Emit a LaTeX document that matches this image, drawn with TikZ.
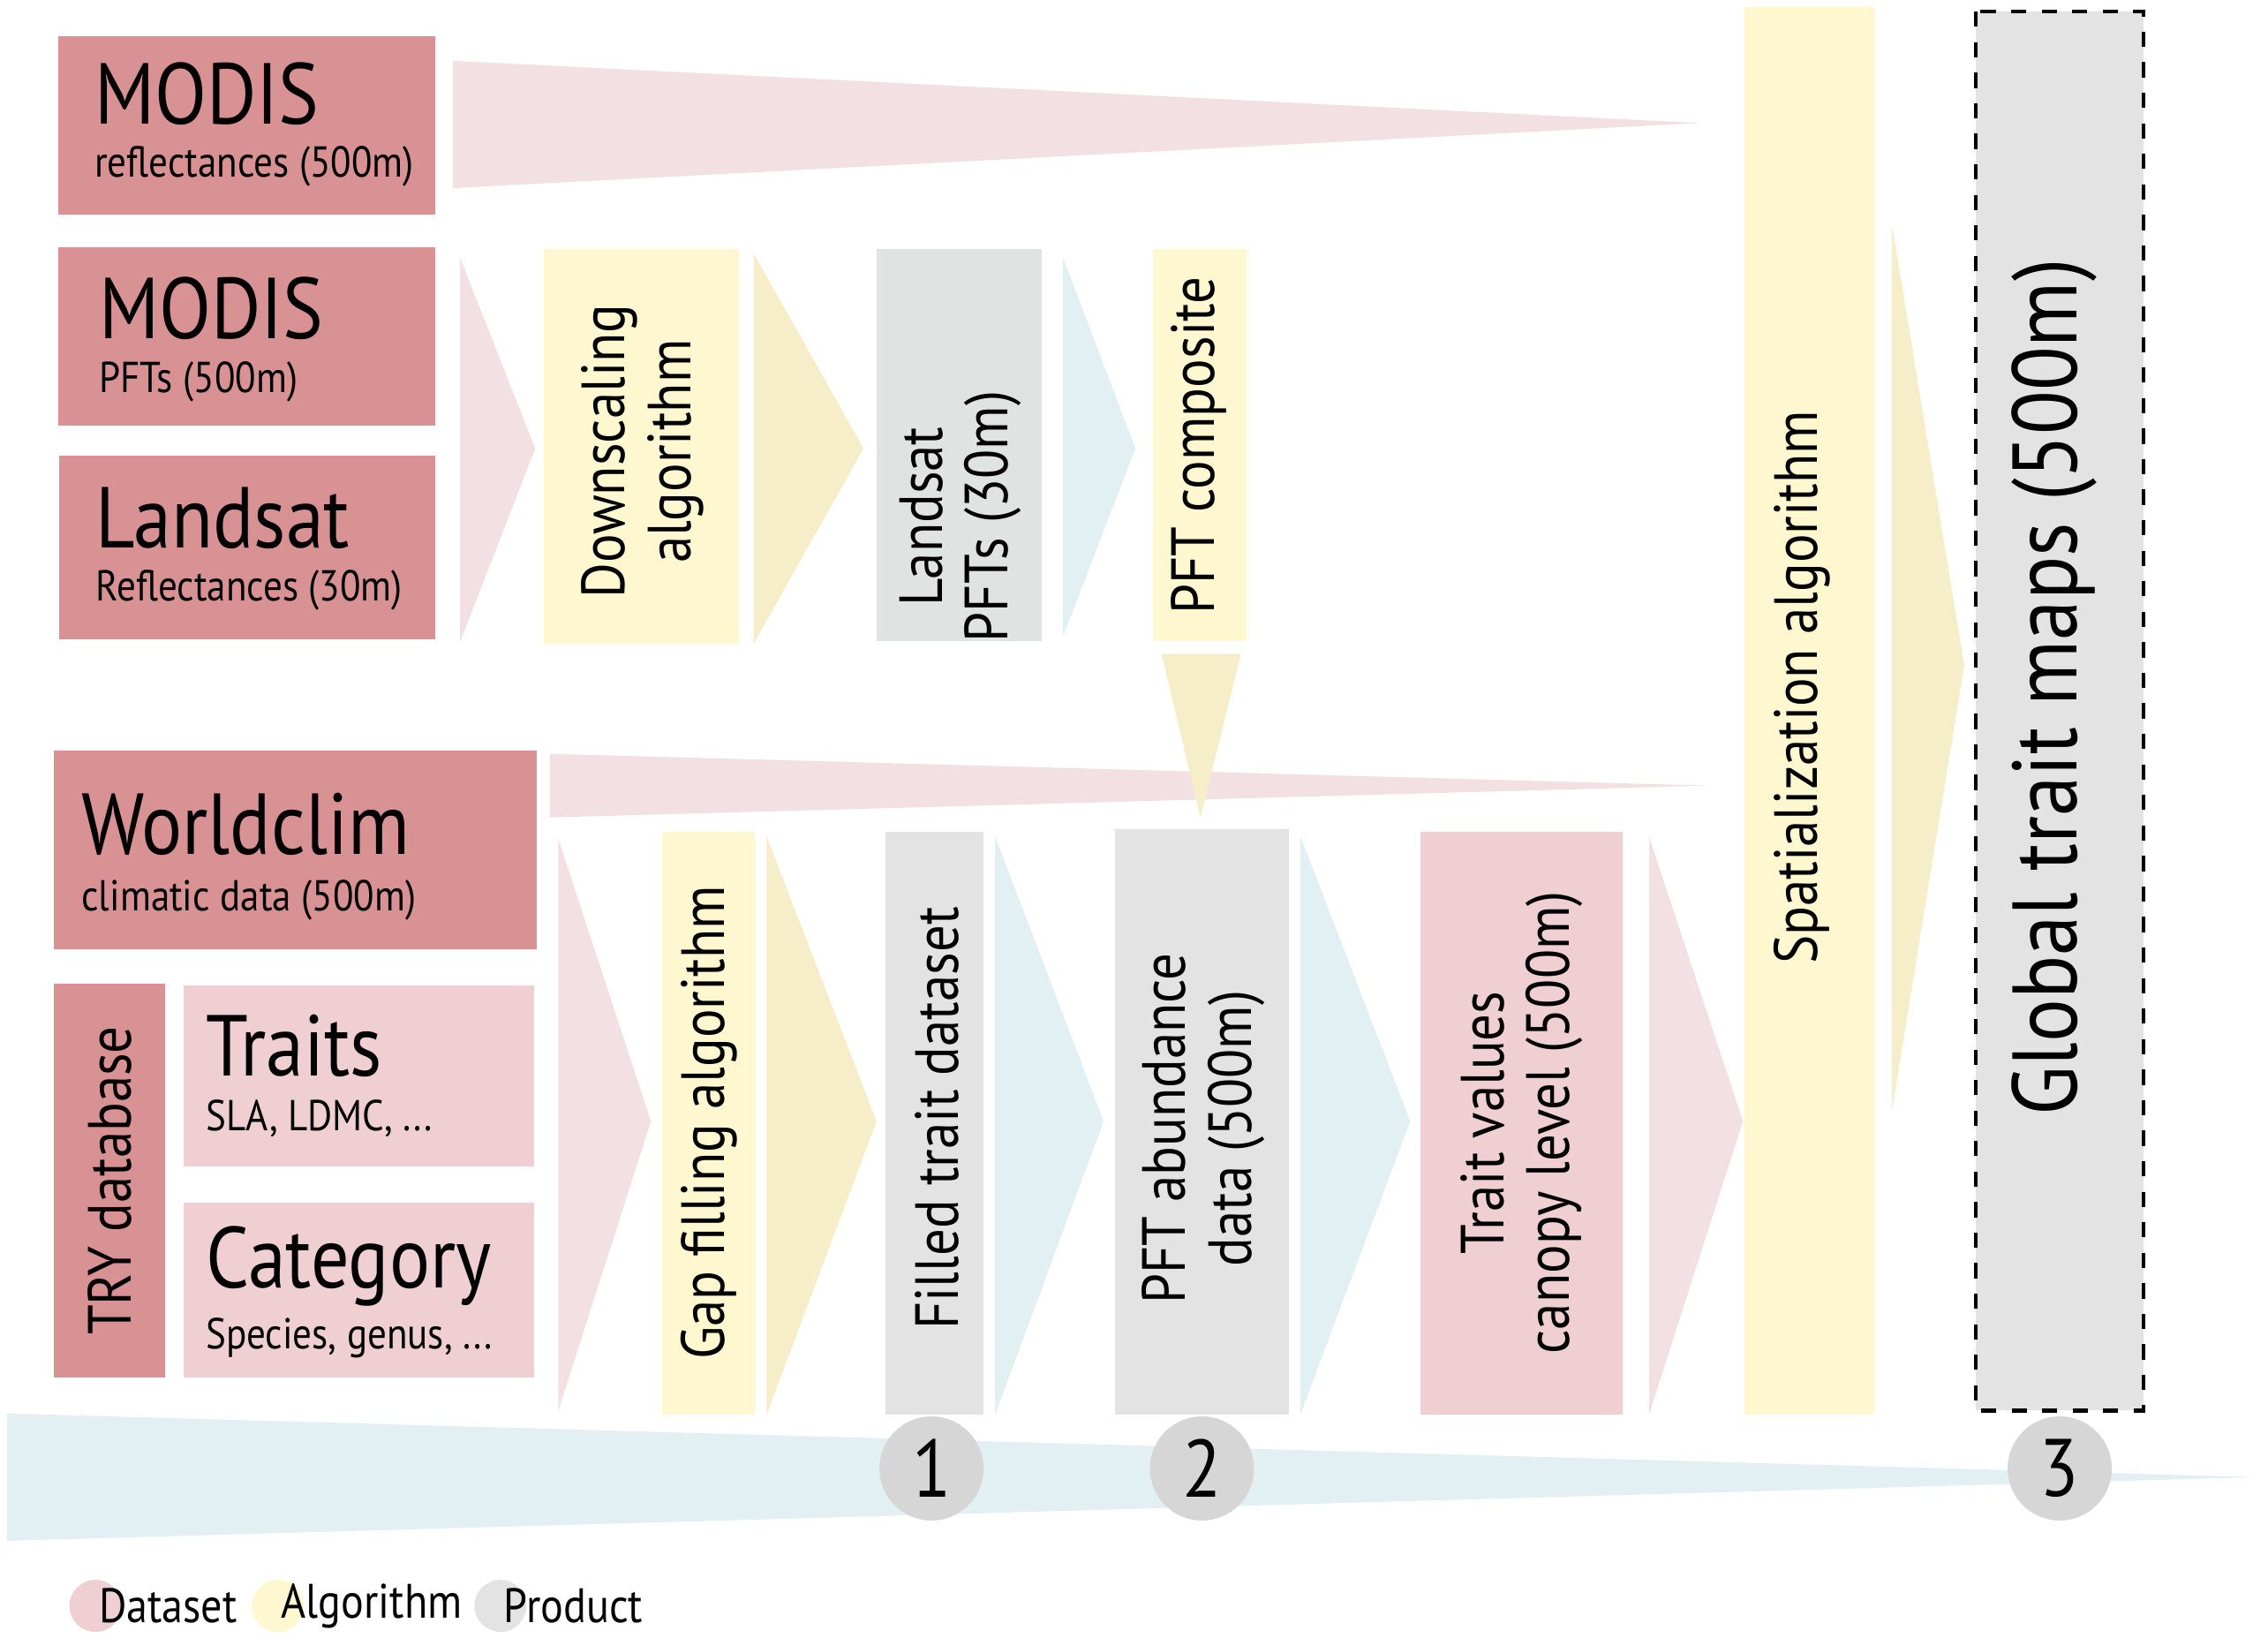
\documentclass[tikz,border=0pt]{standalone}
\usepackage{fontspec}
\setmainfont[FakeStretch=0.88]{PT Sans}
\begin{document}
\begin{tikzpicture}[x=0.01cm,y=-0.01cm]
\definecolor{dred}{HTML}{D99294}
\definecolor{lred}{HTML}{EFCFD2}
\definecolor{ylw}{HTML}{FFF7CF}
\definecolor{gry}{HTML}{E3E3E3}
\definecolor{gryb}{HTML}{DFE3E1}
\definecolor{apink}{HTML}{F2E0E2}
\definecolor{aylw}{HTML}{F6EDC9}
\definecolor{ablue}{HTML}{E2F0F4}
\definecolor{circ}{HTML}{D6D6D6}
\tikzset{box/.style={inner sep=0pt},
 big/.style={font=\fontsize{17}{18}\selectfont},
 small/.style={font=\fontsize{8.5}{10}\selectfont},
 rot/.style={rotate=90,align=center,font=\fontsize{12}{13}\selectfont,inner sep=0pt}}
\useasboundingbox (0,0) rectangle (1568,1132);
% arrows
\fill[apink] (313,42) -- (1175,85) -- (313,130) -- cycle;
\fill[apink] (380,521) -- (1180,543) -- (380,565) -- cycle;
\fill[ablue] (5,977) -- (1560,1021) -- (5,1065) -- cycle;
\fill[apink] (318,178) -- (370,310) -- (318,444) -- cycle;
\fill[aylw] (521,175) -- (597,310) -- (521,445) -- cycle;
\fill[ablue] (735,178) -- (785,310) -- (735,440) -- cycle;
\fill[aylw] (803,452) -- (830,565) -- (858,452) -- cycle;
\fill[apink] (386,580) -- (450,775) -- (386,975) -- cycle;
\fill[aylw] (530,578) -- (606,775) -- (530,978) -- cycle;
\fill[ablue] (688,578) -- (763,775) -- (688,978) -- cycle;
\fill[ablue] (899,578) -- (975,775) -- (899,978) -- cycle;
\fill[apink] (1140,578) -- (1205,775) -- (1140,978) -- cycle;
\fill[aylw] (1308,155) -- (1358,460) -- (1308,768) -- cycle;
% dataset boxes
\fill[dred] (40,25) rectangle (301,148);
\node[anchor=west,big] at (53,65) {MODIS};
\node[anchor=west,small] at (53,115) {reflectances (500m)};
\fill[dred] (40,171) rectangle (301,294);
\node[anchor=west,big] at (56,213) {MODIS};
\node[anchor=west,small] at (56,264) {PFTs (500m)};
\fill[dred] (41,315) rectangle (301,442);
\node[anchor=west,big] at (54,358) {Landsat};
\node[anchor=west,small] at (54,408) {Reflectances (30m)};
\fill[dred] (37,519) rectangle (371,656);
\node[anchor=west,big] at (44,570) {Worldclim};
\node[anchor=west,small] at (44,622) {climatic data (500m)};
\fill[dred] (37,680) rectangle (114,952);
\node[rot] at (76,816) {TRY database};
\fill[lred] (127,681) rectangle (369,806);
\node[anchor=west,big] at (130,723) {Traits};
\node[anchor=west,small] at (130,773) {SLA, LDMC, ...};
\fill[lred] (127,831) rectangle (369,952);
\node[anchor=west,big] at (130,875) {Category};
\node[anchor=west,small] at (130,925) {Species, genus, ...};
\fill[lred] (982,575) rectangle (1122,978);
\node[rot] at (1052,776) {Trait values\\canopy level (500m)};
% algorithms
\fill[ylw] (376,172) rectangle (511,445);
\node[rot] at (444,312) {Downscaling\\algorithm};
\fill[ylw] (797,172) rectangle (862,443);
\node[rot] at (829,308) {PFT composite};
\fill[ylw] (458,575) rectangle (522,978);
\node[rot] at (490,776) {Gap filling algorithm};
\fill[ylw] (1206,5) rectangle (1296,978);
\node[rot] at (1246,475) {Spatialization algorithm};
% products
\fill[gryb] (606,172) rectangle (720,443);
\node[rot] at (664,357) {Landsat\\PFTs (30m)};
\fill[gry] (612,575) rectangle (680,978);
\node[rot] at (648,773) {Filled trait dataset};
\fill[gry] (771,573) rectangle (891,978);
\node[rot] at (832,780) {PFT abundance\\data (500m)};
\draw[fill=gry,dashed,thick] (1366,8) rectangle (1482,975);
\node[rot,font=\fontsize{18}{19}\selectfont] at (1420,475) {Global trait maps (500m)};
% numbers
\foreach \x/\n in {644/1,831/2,1424/3}{
 \fill[circ] (\x,1015) circle (36);
 \node[font=\fontsize{16}{17}\selectfont] (c\n) at (\x,1015) {\n};}
% legend
\fill[lred] (66,1110) circle (18);
\fill[ylw] (192,1110) circle (18);
\fill[gry] (346,1110) circle (18);
\node[anchor=west,font=\fontsize{9.5}{11}\selectfont] at (56,1110) {Dataset};
\node[anchor=west,font=\fontsize{9.5}{11}\selectfont] at (182,1110) {Algorithm};
\node[anchor=west,font=\fontsize{9.5}{11}\selectfont] at (336,1110) {Product};
\end{tikzpicture}
\end{document}
